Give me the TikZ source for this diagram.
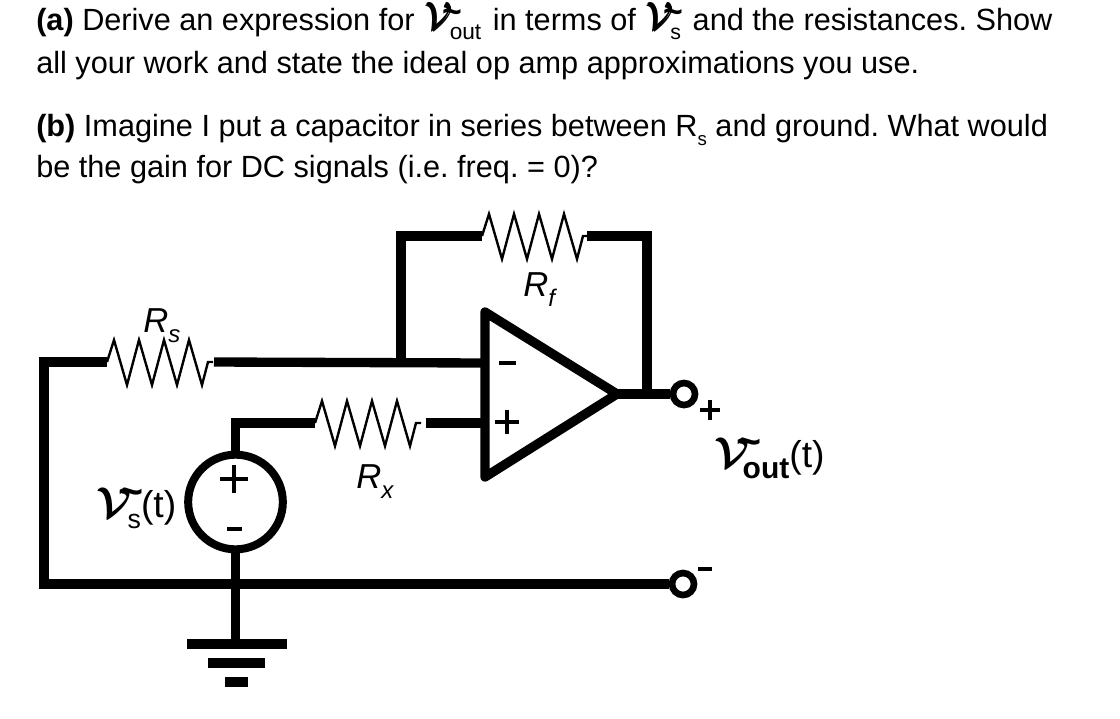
\documentclass[tikz,border=0pt]{standalone}
\usepackage{amsmath}
\usepackage{fontspec}
\setmainfont{Liberation Sans}
\frenchspacing
% calligraphic V with the tilde running off its right arm
\newcommand{\tildeV}{\mbox{\scalebox{1.3}{$\boldsymbol{\mathcal{V}}$}\kern-.36em\raisebox{.3em}{\scalebox{1.15}[1.1]{\textbf{\textasciitilde}}}\kern-.62em}}
\newcommand{\tildeVbf}{\mbox{\scalebox{1.15}{$\pmb{\mathcal{V}}$}\kern-.34em\raisebox{.2em}{\scalebox{1.1}[1.15]{\textbf{\textasciitilde}}}\kern-.5em}}
\newcommand{\sub}[2]{\raisebox{-.3em}{\fontsize{#1}{#1}\selectfont #2}}
\begin{document}
\begin{tikzpicture}[x=0.75pt,y=-0.75pt]

      \tikzset{wire/.style={draw, line width=7pt},
               thin wire/.style={draw, line width=1.8pt, line join=miter},
               sign/.style={draw, line width=3pt},
               body/.style={anchor=base west, inner sep=0pt, font=\fontsize{23}{26}\selectfont},
               value/.style={anchor=base west, inner sep=0pt, font=\fontsize{26}{28}\selectfont},
               signal/.style={anchor=base west, inner sep=0pt, font=\fontsize{28}{30}\selectfont},
               terminal/.style={draw, circle, inner sep=0pt, line width=5pt, minimum size=16.5pt, fill=white}}
      \useasboundingbox (0,0) rectangle (1120,718);
%% Text
      	\node[body] (line1) at (36,30) {\textbf{(a)} Derive an expression for \kern.1em\tildeVbf\kern.1em\sub{17}{out}\kern.1em{} in terms of \kern.1em\tildeVbf\kern.08em\sub{16}{s}\kern.1em{} and the resistances. Show};
      	\node[body] (line2) at (36,73) {all your work and state the ideal op amp approximations you use.};
      	\node[body] (line3) at (36,136) {\textbf{(b)} Imagine I put a capacitor in series between R\sub{14}{s} and ground. What would};
      	\node[body] (line4) at (36,177) {be the gain for DC signals (i.e. freq. = 0)?};
%% Vertices
      	\coordinate (rsL) at (107,362);
      	\coordinate (rsR) at (214,362);
      	\coordinate (rxL) at (315,423);
      	\coordinate (rxR) at (426,423);
      	\coordinate (rfL) at (482,236);
      	\coordinate (rfR) at (587,236);
      	\coordinate (opTop) at (485,312);
      	\coordinate (opBot) at (485,477);
      	\coordinate (opTip) at (617,394);
      	\coordinate (opMinus) at (485,363);
      	\coordinate (opPlus) at (485,423);
      	\coordinate (fbL) at (401,363);
      	\coordinate (fbR) at (647,394);
      	\coordinate (gnd) at (235.5,584);
      	\coordinate (gndBar) at (235.5,644);
      	\coordinate (corner) at (44,584);
      	\node[draw, circle, inner sep=0pt, line width=6pt, minimum size=71pt] (src) at (235.5,502) {};
      	\node[terminal] (outP) at (684,394) {};
      	\node[terminal] (outM) at (683,584) {};
%Resistors
      	\foreach \res in {rsL,rxL,rfL}
      		\draw[thin wire] (\res) -- ++(7,-22) -- ++(13,45) -- ++(12,-45) -- ++(13,45) -- ++(12,-45) -- ++(13,45) -- ++(12,-45) -- ++(13,45) -- ++(6,-23) -- ++(5,0);
%Edges
		\path [wire] (rsL) -| (corner) -- (gnd);
		\path [wire] (gnd) -- (outM.west);
		\path [wire] (rsR) -- (opMinus);
		\path [wire] (fbL) |- (rfL);
		\path [wire] (rfR) -| (fbR);
		\path [wire] (src.north) |- (rxL);
		\path [wire] (rxR) -- (opPlus);
		\path [wire] (src.south) -- (gndBar);
		\path [wire] (opTip) -- (outP.west);
		\path [wire, line join=round] (opTop) -- (opTip) -- (opBot) -- cycle;
%Ground
		\path [wire] (187,644) -- (287,644);
		\path [wire] (208,663) -- (265,663);
		\path [wire] (225,682) -- (248,682);
%Signs
		\path [sign] (499,363) -- (516,363);
		\path [sign, line width=2.6pt] (495,422) -- (519,422) (507,410) -- (507,434);
		\path [sign, line width=3.6pt] (220,479) -- (248,479) (234,465) -- (234,493);
		\path [sign] (227,529) -- (242,529);
		\path [sign, line width=3.6pt] (700,410) -- (720,410) (710,400) -- (710,420);
		\path [sign, line width=3.6pt] (698,569) -- (712,569);
%Labels
      	\node[value] (labelRs) at (143,332) {\textit{R}\sub{18}{\textit{s}}};
      	\node[value] (labelRf) at (523,296) {\textit{R}\sub{18}{\textit{f}}};
      	\node[value] (labelRx) at (356,488) {\textit{R}\sub{18}{\textit{x}}};
      	\node[signal] (labelVs) at (96,517) {\tildeV\kern.2em\sub{20}{s}(t)};
      	\node[signal] (labelVout) at (714,467) {\tildeV\kern.12em\sub{22.5}{\textbf{out}}(t)};

	\end{tikzpicture}
\end{document}
